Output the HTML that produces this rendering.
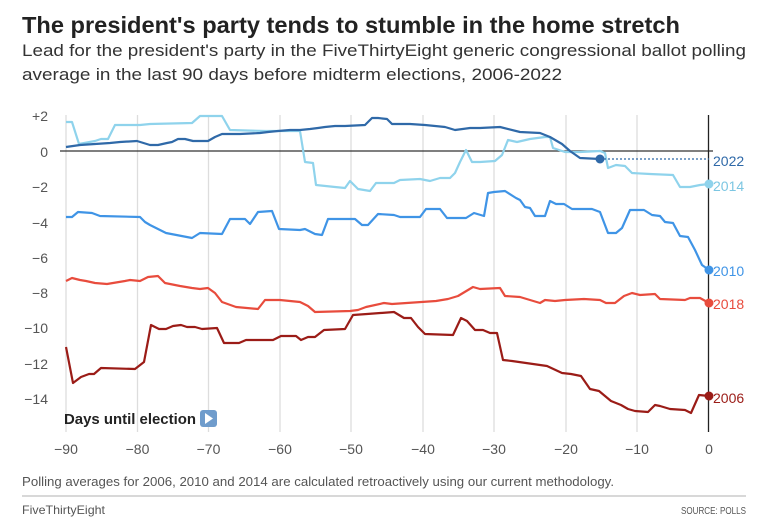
<!DOCTYPE html>
<html><head><meta charset="utf-8"><style>
html,body{margin:0;padding:0;background:#fff;}
svg{display:block;font-family:"Liberation Sans",sans-serif;}
</style></head><body>
<svg width="768" height="525" viewBox="0 0 768 525">
<text x="22" y="33" font-size="23" font-weight="bold" fill="#222" textLength="658" lengthAdjust="spacingAndGlyphs">The president's party tends to stumble in the home stretch</text>
<text x="22" y="56" font-size="17" fill="#333" textLength="724" lengthAdjust="spacingAndGlyphs">Lead for the president's party in the FiveThirtyEight generic congressional ballot polling</text>
<text x="22" y="80" font-size="17" fill="#333" textLength="540" lengthAdjust="spacingAndGlyphs">average in the last 90 days before midterm elections, 2006-2022</text>
<g stroke="#ddd" stroke-width="1.3">
<line x1="66" y1="115" x2="66" y2="432"/><line x1="137.5" y1="115" x2="137.5" y2="432"/><line x1="208.5" y1="115" x2="208.5" y2="432"/><line x1="280" y1="115" x2="280" y2="432"/><line x1="351" y1="115" x2="351" y2="432"/><line x1="423" y1="115" x2="423" y2="432"/><line x1="494" y1="115" x2="494" y2="432"/><line x1="566" y1="115" x2="566" y2="432"/><line x1="637" y1="115" x2="637" y2="432"/>
</g>
<line x1="60" y1="151" x2="713" y2="151" stroke="#333" stroke-width="1.3"/>
<line x1="708.5" y1="115" x2="708.5" y2="432" stroke="#222" stroke-width="1.3"/>
<g font-size="14" fill="#555" text-anchor="end">
<text x="48" y="121">+2</text><text x="48" y="157">0</text><text x="48" y="192">−2</text><text x="48" y="228">−4</text><text x="48" y="263">−6</text><text x="48" y="298">−8</text><text x="48" y="333">−10</text><text x="48" y="369">−12</text><text x="48" y="404">−14</text>
</g>
<g font-size="14" fill="#555" text-anchor="middle">
<text x="66" y="454">−90</text><text x="137.5" y="454">−80</text><text x="208.5" y="454">−70</text><text x="280" y="454">−60</text><text x="351" y="454">−50</text><text x="423" y="454">−40</text><text x="494" y="454">−30</text><text x="566" y="454">−20</text><text x="637" y="454">−10</text><text x="709" y="454">0</text>
</g>
<text x="64" y="424" font-size="15" font-weight="bold" fill="#222" textLength="132" lengthAdjust="spacingAndGlyphs">Days until election</text>
<rect x="200" y="410" width="17" height="17" rx="3" fill="#6f9ccc"/>
<polygon points="205,413 205,424 213,418.5" fill="#fff"/>
<g fill="none" stroke-width="2.2" stroke-linejoin="round">
<polyline stroke="#8fd3ec" points="66,122 72,122 79,144 95,141 101,139 108,139 115,125 140,125 150,124 192,123 200,116 222,116 230,130 265,131 293,131 300,131 305,162 313,163 316,185 335,187 345,188 350,181 358,189 370,191 376,183 394,183 400,180 420,179 430,181 440,178 450,178 455,173 460,162 466,150 472,162 480,162 495,161 502,155 508,140 517,142 530,139 545,137 550,137 553,148 565,152 580,152 600,151 605,153 608,168 616,165 625,166 632,173 650,174 673,175 680,187 690,187 700,185 709,184"/>
<polyline stroke="#2f69a8" points="66,147 80,145 95,144 110,143 120,142 137,141 150,145 158,145 167,143 172,142 178,139 185,139 193,141 208,141 215,137 222,134 240,134 260,133 268,132 278,131 290,130 300,130 310,129 318,128 325,127 335,126 345,126 365,125 372,118 378,118 387,119 392,124 410,124 425,125 445,127 455,130 470,128 480,128 500,127 520,132 540,133 550,137 562,144 570,151 580,158 600,159"/>
<polyline stroke="#3f94e6" points="66,217 72,217 78,212 92,213 100,216 140,217 145,222 150,225 166,233 192,238 200,233 222,234 230,219 245,219 250,224 258,212 272,211 279,229 300,230 305,229 315,234 322,235 328,219 355,219 362,225 368,225 378,214 394,215 400,217 420,217 426,209 440,209 447,218 466,218 474,213 484,216 488,193 494,192 505,191 516,198 520,200 525,207 530,208 535,216 545,216 550,201 556,204 564,204 572,209 592,209 600,212 608,233 616,233 622,228 630,210 644,210 652,215 660,216 665,222 673,223 680,236 688,237 695,250 702,265 709,270"/>
<polyline stroke="#e84c3d" points="66,281 72,278 80,280 86,281 95,283 107,284 125,281 130,280 140,281 148,277 158,276 165,283 180,286 192,288 200,289 208,288 215,293 222,302 236,307 258,309 265,300 280,300 300,302 308,306 315,312 350,311 358,310 366,307 384,303 392,304 436,301 448,299 458,296 473,287 480,289 500,288 505,296 520,297 540,303 545,300 555,301 565,300 584,299 600,300 606,303 615,303 624,296 632,293 640,295 655,294 660,299 685,300 690,298 700,298 709,303"/>
<polyline stroke="#9b1c17" points="66,347 73,383 81,377 89,374 94,374 101,368 135,369 144,362 151,325 159,329 166,329 173,326 181,325 187,327 195,327 202,329 217,328 224,343 239,343 246,340 273,340 281,336 296,336 301,340 308,337 315,337 324,330 345,329 353,315 367,314 394,312 404,318 411,318 418,327 425,334 453,335 461,318 467,321 475,330 483,330 490,333 497,333 503,360 512,361 547,366 562,373 571,374 581,376 590,389 599,391 611,401 621,405 628,409 635,411 648,412 655,405 660,406 670,409 685,410 691,413 699,395 709,396"/>
</g>
<line x1="600" y1="159" x2="709" y2="159" stroke="#2f69a8" stroke-width="1.2" stroke-dasharray="2,2"/>
<circle cx="600" cy="159" r="4.5" fill="#2f69a8"/>
<circle cx="709" cy="184" r="4.5" fill="#8fd3ec"/>
<circle cx="709" cy="270" r="4.5" fill="#3f94e6"/>
<circle cx="709" cy="303" r="4.5" fill="#e84c3d"/>
<circle cx="709" cy="396" r="4.5" fill="#9b1c17"/>
<g font-size="14">
<text x="713" y="166" fill="#2f69a8">2022</text>
<text x="713" y="191" fill="#7cc6e2">2014</text>
<text x="713" y="276" fill="#3f94e6">2010</text>
<text x="713" y="309" fill="#e84c3d">2018</text>
<text x="713" y="403" fill="#9b1c17">2006</text>
</g>
<text x="22" y="486" font-size="13" fill="#555" textLength="592" lengthAdjust="spacingAndGlyphs">Polling averages for 2006, 2010 and 2014 are calculated retroactively using our current methodology.</text>
<line x1="22" y1="496" x2="746" y2="496" stroke="#ccc" stroke-width="1.5"/>
<text x="22" y="514" font-size="12" fill="#555" textLength="83" lengthAdjust="spacingAndGlyphs">FiveThirtyEight</text>
<text x="746" y="514" font-size="10.5" fill="#555" text-anchor="end" textLength="65" lengthAdjust="spacingAndGlyphs">SOURCE: POLLS</text>
</svg>
</body></html>
